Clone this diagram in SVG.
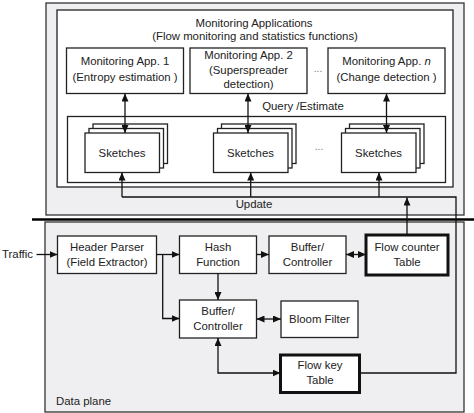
<svg xmlns="http://www.w3.org/2000/svg" width="474" height="413" viewBox="0 0 474 413">
<defs>
<marker id="ah" viewBox="0 0 8 7" refX="8" refY="3.5" markerWidth="8" markerHeight="7" markerUnits="userSpaceOnUse" orient="auto-start-reverse">
<path d="M0,0 L8,3.5 L0,7 z" fill="#111"/>
</marker>
<style>
.panel{fill:#efeff1;stroke:#333;stroke-width:1.3}
.box{fill:#fff;stroke:#222;stroke-width:1.3}
.thick{fill:#fff;stroke:#111;stroke-width:3}
.t{font-family:"Liberation Sans",Arial,sans-serif;font-size:11.4px;fill:#222;text-anchor:middle}
.ts{font-family:"Liberation Sans",Arial,sans-serif;font-size:11.4px;fill:#222}
.dots{font-family:"Liberation Sans",Arial,sans-serif;font-size:10px;fill:#777;text-anchor:middle}
.c{fill:none;stroke:#111;stroke-width:1.3}
.a{fill:none;stroke:#111;stroke-width:1.3;marker-end:url(#ah)}
.aa{fill:none;stroke:#111;stroke-width:1.3;marker-end:url(#ah);marker-start:url(#ah)}
</style>
</defs>

<g id="control-plane">
<rect class="panel" x="46" y="3" width="418" height="212"/>
<rect class="box" x="57" y="10" width="396" height="177"/>
<text class="t" x="254" y="27">Monitoring Applications</text>
<text class="t" x="255" y="40">(Flow monitoring and statistics functions)</text>
</g>

<g id="app1">
<rect class="box" x="66.5" y="48" width="117" height="45.5"/>
<text class="t" x="125" y="65">Monitoring App. 1</text>
<text class="t" x="125" y="81">(Entropy estimation )</text>
</g>
<g id="app2">
<rect class="box" x="190" y="48" width="117" height="45.5"/>
<text class="t" x="248.5" y="59">Monitoring App. 2</text>
<text class="t" x="248.5" y="73.5">(Superspreader</text>
<text class="t" x="248.5" y="87.5">detection)</text>
</g>
<text class="dots" x="318" y="72">...</text>
<g id="appn">
<rect class="box" x="328" y="48" width="117" height="45.5"/>
<text class="t" x="386.5" y="65">Monitoring App. <tspan font-style="italic">n</tspan></text>
<text class="t" x="386.5" y="81">(Change detection )</text>
</g>

<text class="t" x="303" y="110">Query /Estimate</text>

<g id="sketch-area">
<rect class="box" x="67.5" y="116.5" width="378" height="66"/>
</g>
<g id="sketches1">
<rect class="box" x="93" y="124" width="74.5" height="39.5"/>
<rect class="box" x="89" y="128.5" width="74.5" height="39.5"/>
<rect class="box" x="85" y="133" width="74.5" height="39.5"/>
<text class="t" x="122" y="156.5">Sketches</text>
</g>
<g id="sketches2">
<rect class="box" x="221.5" y="124" width="74.5" height="39.5"/>
<rect class="box" x="217.5" y="128.5" width="74.5" height="39.5"/>
<rect class="box" x="213.5" y="133" width="74.5" height="39.5"/>
<text class="t" x="250.5" y="156.5">Sketches</text>
</g>
<text class="dots" x="319" y="150">...</text>
<g id="sketches3">
<rect class="box" x="349.5" y="124" width="74.5" height="39.5"/>
<rect class="box" x="345.5" y="128.5" width="74.5" height="39.5"/>
<rect class="box" x="341.5" y="133" width="74.5" height="39.5"/>
<text class="t" x="378.5" y="156.5">Sketches</text>
</g>

<text class="t" x="254" y="208">Update</text>

<line x1="32" y1="219.5" x2="474" y2="219.5" stroke="#000" stroke-width="2.5"/>

<g id="data-plane">
<rect class="panel" x="45" y="222" width="419" height="190"/>
<text class="ts" x="56" y="405">Data plane</text>
</g>

<text class="ts" x="33" y="258" text-anchor="end">Traffic</text>

<g id="header-parser">
<rect class="box" x="57.5" y="236" width="99" height="37.5"/>
<text class="t" x="107" y="250.5">Header Parser</text>
<text class="t" x="107" y="265.5">(Field Extractor)</text>
</g>
<g id="hash">
<rect class="box" x="179.5" y="236" width="77" height="37.5"/>
<text class="t" x="218" y="250.5">Hash</text>
<text class="t" x="218" y="265.5">Function</text>
</g>
<g id="buffer1">
<rect class="box" x="269" y="236" width="77" height="37.5"/>
<text class="t" x="307.5" y="250.5">Buffer/</text>
<text class="t" x="307.5" y="265.5">Controller</text>
</g>
<g id="flow-counter">
<rect class="thick" x="366" y="235" width="82" height="40"/>
<text class="t" x="407" y="250.5">Flow counter</text>
<text class="t" x="407" y="265.5">Table</text>
</g>
<g id="buffer2">
<rect class="box" x="179.5" y="300" width="77" height="38"/>
<text class="t" x="218" y="315">Buffer/</text>
<text class="t" x="218" y="330">Controller</text>
</g>
<g id="bloom">
<rect class="box" x="281" y="301" width="77" height="36.5"/>
<text class="t" x="319.5" y="323">Bloom Filter</text>
</g>
<g id="flow-key">
<rect class="thick" x="280.5" y="355" width="79" height="37.5"/>
<text class="t" x="320" y="368.5">Flow key</text>
<text class="t" x="320" y="383.5">Table</text>
</g>

<g id="connectors">
<path class="aa" d="M125,93.5 V133"/>
<path class="aa" d="M248,93.5 V133"/>
<path class="aa" d="M386.5,93.5 V133"/>
<path class="c" d="M359.5,373 H456 V197 H122"/>
<path class="a" d="M122,197 V172.5"/>
<path class="a" d="M250.7,197 V172.5"/>
<path class="a" d="M379,197 V172.5"/>
<path class="a" d="M407,235 V197.5"/>
<path class="a" d="M36.5,254.5 H57.5"/>
<path class="a" d="M156.5,254.5 H179.5"/>
<path class="a" d="M162.7,254.5 V318.5 H179.5"/>
<path class="a" d="M256.5,254.5 H269"/>
<path class="aa" d="M346,254.5 H366"/>
<path class="a" d="M218,273.5 V300"/>
<path class="aa" d="M256.5,319 H281"/>
<path class="aa" d="M218,338 V373 H280.5"/>
</g>
</svg>
